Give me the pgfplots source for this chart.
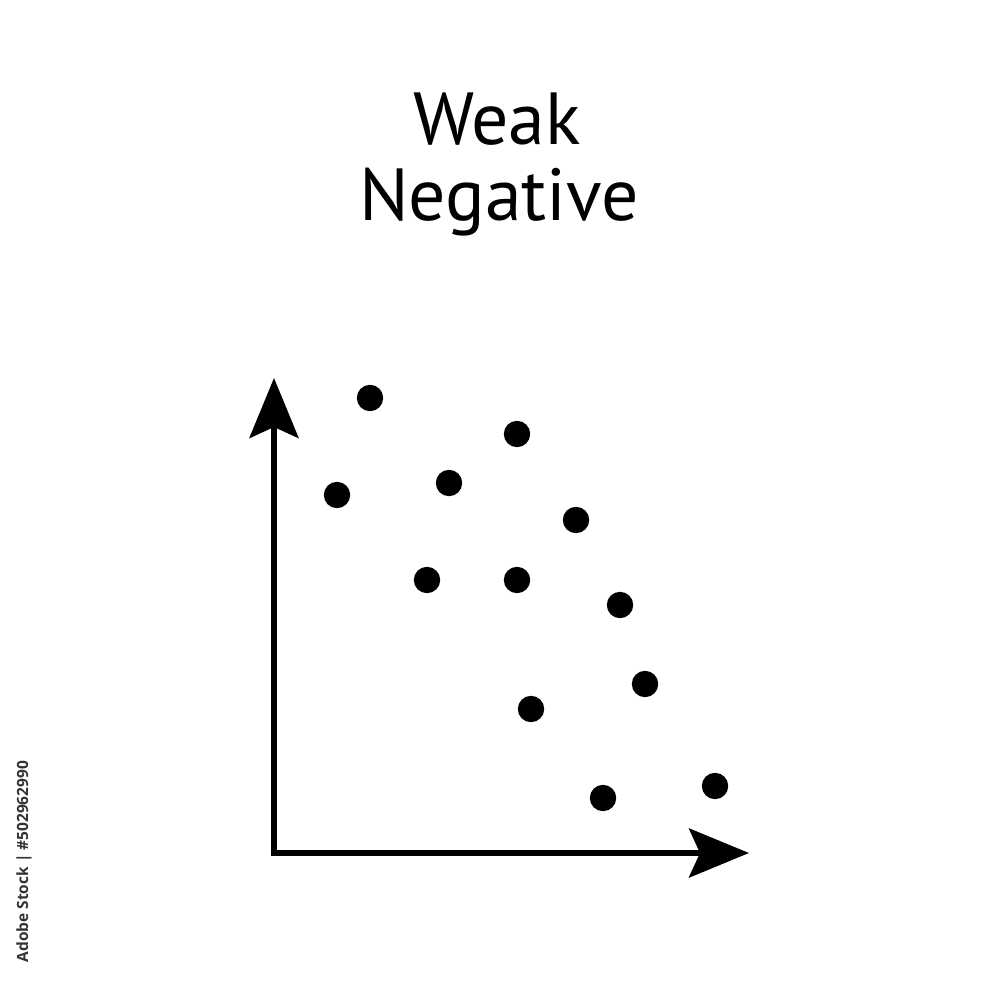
\documentclass[border=0pt]{standalone}
\usepackage{pgfplots}
\pgfplotsset{compat=1.18}
\usepackage{fontspec}
\setmainfont{PT Sans}
\newfontfamily\wmfont{Open Sans}
\usetikzlibrary{arrows.meta}
\begin{document}
\begin{tikzpicture}
\begin{axis}[
  scale only axis, width=10cm, height=10cm,
  xmin=0, xmax=1000, ymin=0, ymax=1000, y dir=reverse,
  hide axis, clip=false]
\path[use as bounding box] (axis cs:0,0) rectangle (axis cs:1000,1000);
\addplot[black, line width=1.6pt, line join=miter,
  {Stealth[length=0.6cm, width=0.49cm, inset=0.11cm]}-{Stealth[length=0.6cm, width=0.49cm, inset=0.11cm]}]
  coordinates {(274,378) (274,853) (749,853)};
\addplot[only marks, mark=*, mark size=3.55pt, black] coordinates {
  (370,398) (517,434) (337,495) (449,483) (576,520) (427,580)
  (517,580) (620,605) (645,684) (531,709) (603,798) (715,786)};
\node[anchor=base, font=\fontsize{21pt}{22pt}\selectfont] at (axis cs:497,145) {Weak};
\node[anchor=base, font=\fontsize{21pt}{22pt}\selectfont] at (axis cs:499,221) {Negative};
\node[rotate=90, anchor=base west, inner sep=0pt, font=\wmfont\bfseries\fontsize{4.4pt}{5pt}\selectfont, text=black!80] at (axis cs:28,963) {Adobe Stock | \#502962990};
\end{axis}
\end{tikzpicture}
\end{document}
